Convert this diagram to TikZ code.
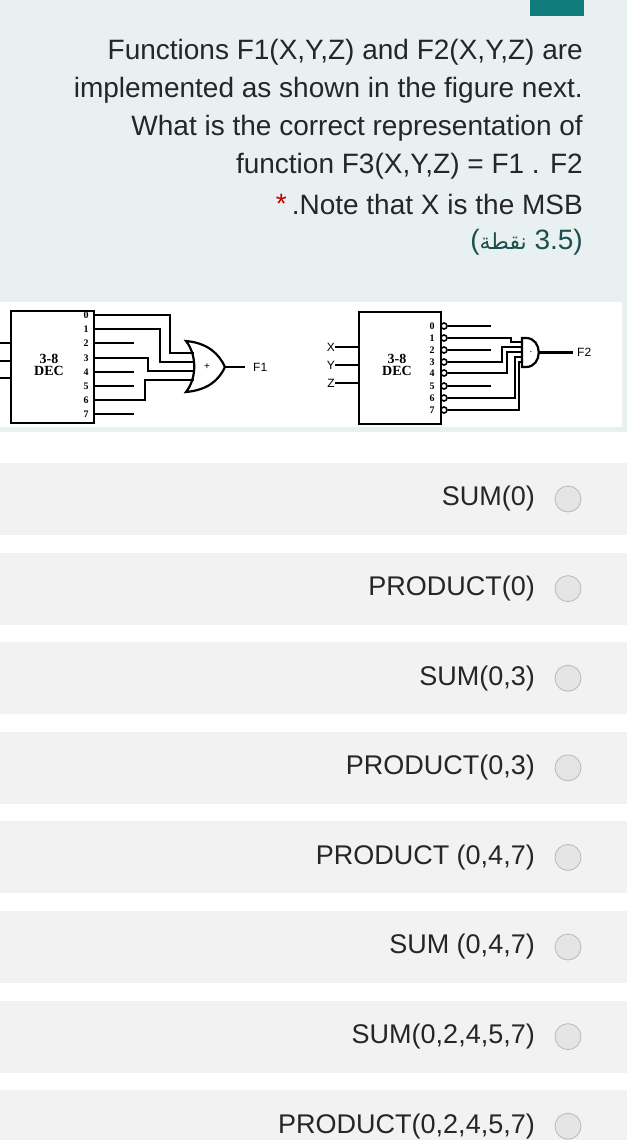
\documentclass[tikz,border=0pt]{standalone}
\usepackage{fontspec}
\setmainfont{Liberation Sans}
\newfontfamily\qfont{Liberation Sans}
\newfontfamily\arabicfont[Script=Arabic]{DejaVu Sans}
\newfontfamily\serifb{Liberation Serif}
\TeXXeTstate=1
\definecolor{panel}{HTML}{E8F0F2}
\definecolor{rowgray}{HTML}{F2F2F2}
\definecolor{tealbox}{HTML}{127C7C}
\definecolor{txt}{HTML}{262626}
\definecolor{arab}{HTML}{1C4F4F}
\begin{document}
\begin{tikzpicture}[x=1pt,y=-1pt,
  qtext/.style={anchor=east,inner sep=0,text=txt,font=\qfont\fontsize{28}{32}\selectfont},
  opttext/.style={anchor=east,inner sep=0,text=txt,font=\qfont\fontsize{27}{30}\selectfont},
  radio/.style={circle,draw=black!28,fill=black!10,minimum width=26pt,inner sep=0,line width=0.8pt},
  wire/.style={line width=2.2pt},
  dig/.style={inner sep=0,font=\serifb\bfseries\fontsize{10}{10}\selectfont},
  declab/.style={align=center,inner sep=0,font=\serifb\bfseries\fontsize{14}{14}\selectfont},
  siglab/.style={inner sep=0,font=\fontsize{12}{12}\selectfont},
  bub/.style={circle,draw,line width=1.6pt,fill=white,minimum size=6pt,inner sep=0}]
\useasboundingbox (0,0) rectangle (644,1140);
\fill[white] (0,0) rectangle (644,1140);
\fill[panel] (0,0) rectangle (627,432);
\fill[tealbox] (530,0) rectangle (584,16);
% question text
\node[qtext] (l1) at (583,52) {Functions F1(X,Y,Z) and F2(X,Y,Z) are};
\node[qtext] (l2) at (583,90) {implemented as shown in the figure next.};
\node[qtext] (l3) at (583,128) {What is the correct representation of};
\node[qtext] (l4) at (583,166) {function F3(X,Y,Z) = F1 . F2};
\node[qtext] (l5) at (583,204) {.Note that X is the MSB};
\node[anchor=east,inner sep=0,text=red!75!black,font=\fontsize{28}{32}\selectfont] (star) at (l5.west) {*\,};
\node[anchor=east,inner sep=0,text=arab,font=\qfont\fontsize{28}{32}\selectfont] (pts) at (583,242) {({\arabicfont\fontsize{22}{26}\selectfont\beginR نقطة\endR} 3.5)};
% circuit strip
\fill[white] (0,302) rectangle (622,427);
% ---- left circuit
\node[draw,line width=2.2pt,minimum width=83pt,minimum height=112pt,anchor=north west,inner sep=0] (dec1) at (10,310) {};
\node[declab] (dl1) at (49,365) {3-8\\[-2pt]DEC};
\foreach \i/\yy in {0/315,1/329,2/343,3/358,4/372,5/386,6/400,7/414}{
  \node[dig] (a\i) at (86,\yy) {\i};
  \coordinate (p\i) at (93,\yy);
}
\foreach \yy [count=\k] in {343,361,378}{
  \coordinate (in\k) at (10,\yy);
  \coordinate (ins\k) at (0,\yy);
  \draw[wire] (ins\k) -- (in\k);
}
% OR gate
\draw[line width=2.2pt,fill=white] (186,341) .. controls (197,355) and (197,378) .. (186,392)
  .. controls (208,390) and (219,380) .. (225,367)
  .. controls (219,354) and (208,343) .. (186,341) -- cycle;
\node[inner sep=0,font=\fontsize{10}{10}\selectfont] (plus) at (207,367) {+};
\coordinate (orout) at (225,367);
\coordinate (f1end) at (245,367);
\draw[wire] (orout) -- (f1end);
\node[siglab,anchor=west] (F1) at (253,367) {F1};
\draw[wire] (p0) -| (170,353) -- (194,353);
\draw[wire] (p1) -| (160,362) -- (195,362);
\draw[wire] (p3) -| (148,371) -- (195,371);
\draw[wire] (p6) -| (145,380) -- (194,380);
\foreach \i in {2,4,5,7}{ \draw[wire] (p\i) -- ++(41,0); }
% ---- right circuit
\node[draw,line width=2.2pt,minimum width=82pt,minimum height=112pt,anchor=north west,inner sep=0] (dec2) at (358,311) {};
\node[declab] (dl2) at (397,365) {3-8\\[-2pt]DEC};
\foreach \n/\yy in {X/347,Y/365,Z/383}{
  \node[siglab,anchor=east] (s\n) at (335,\yy) {\n};
  \draw[wire] (s\n.east) -- (358,\yy);
}
\foreach \i/\yy in {0/326,1/338,2/350,3/362,4/373,5/386,6/398,7/410}{
  \node[dig] (b\i) at (432,\yy) {\i};
  \node[bub] (q\i) at (444,\yy) {};
}
% AND gate
\draw[line width=2.2pt,fill=white] (522,338) -- (526,338) .. controls (543,338) and (543,367) .. (526,367) -- (522,367) -- cycle;
\node[inner sep=0,font=\fontsize{10}{10}\selectfont] (dot) at (531,352) {.};
\coordinate (andout) at (539,352.5);
\coordinate (f2end) at (573,352.5);
\draw[wire] (andout) -- (f2end);
\node[siglab,anchor=west] (F2) at (577,352) {F2};
\draw[wire] (q1.east) -| (511,342) -- (522,342);
\draw[wire] (q3.east) -| (502,347) -- (522,347);
\draw[wire] (q4.east) -| (507,352) -- (522,352);
\draw[wire] (q6.east) -| (515,357) -- (522,357);
\draw[wire] (q7.east) -| (519,362) -- (522,362);
\foreach \i in {0,2,5}{ \draw[wire] (q\i.east) -- ++(43,0); }
% ---- options
\foreach \t [count=\k] in {SUM(0),PRODUCT(0),{SUM(0,3)},{PRODUCT(0,3)},{PRODUCT (0,4,7)},{SUM (0,4,7)},{SUM(0,2,4,5,7)},{PRODUCT(0,2,4,5,7)}}{
  \pgfmathsetmacro\ry{463+89.6*(\k-1)}
  \fill[rowgray] (0,\ry) rectangle (627,\ry+72);
  \node[opttext] (o\k) at (535,\ry+36) {\t};
  \node[radio] (r\k) at (568,\ry+36) {};
}
\end{tikzpicture}
\end{document}
